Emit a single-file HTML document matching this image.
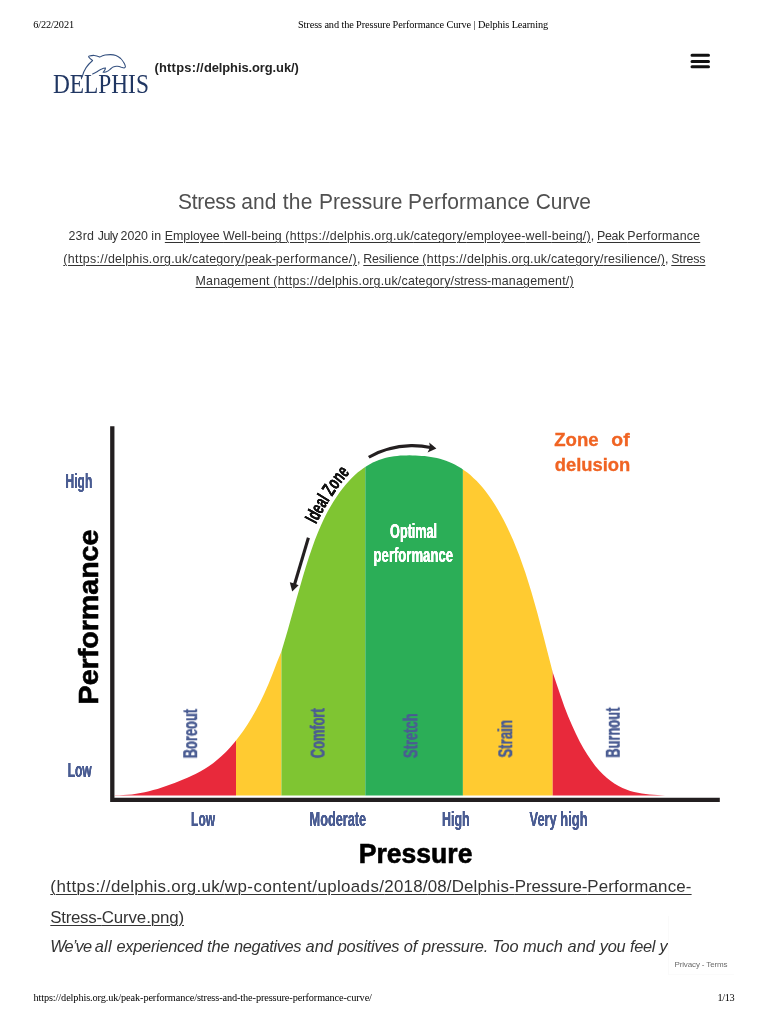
<!DOCTYPE html>
<html lang="en">
<head>
<meta charset="utf-8">
<title>Stress and the Pressure Performance Curve | Delphis Learning</title>
<style>
html,body{margin:0;padding:0;background:#fff;}
body{width:768px;height:1024px;position:relative;overflow:hidden;font-family:"Liberation Sans",sans-serif;color:#333;}
.abs{position:absolute;white-space:nowrap;}
.ph{font-family:"Liberation Serif",serif;font-size:10.3px;letter-spacing:-0.11px;color:#000;line-height:12px;}
.meta{font-size:12.4px;line-height:16px;color:#333;}
.meta u,.lnk u{text-decoration:underline;text-decoration-thickness:1px;text-underline-offset:2px;}
.lnk{font-size:16.9px;line-height:20px;color:#333;}
.it{font-style:italic;}
.lu{font-weight:bold;color:#222;line-height:16px;}
.ln{position:absolute;height:20px;}
.ln span{position:absolute;top:0;white-space:pre;}
.ln .u{text-decoration:underline;text-decoration-thickness:1px;text-underline-offset:2px;}
#title{color:#505050;line-height:30px;transform:scaleY(1.05);transform-origin:0 22.8px;}
svg{position:absolute;left:0;top:0;}
svg text{font-family:"Liberation Sans",sans-serif;font-weight:bold;}
.lb{fill:#4a5c92;font-size:19.5px;}
</style>
</head>
<body>
<!-- print header -->
<div class="abs ph" id="ph1" style="left:33.2px;top:18.6px;">6/22/2021</div>
<div class="abs ph" id="ph2" style="left:298px;top:18.6px;">Stress and the Pressure Performance Curve | Delphis Learning</div>

<!-- site header -->
<div class="ln lu" id="logourl" style="left:154.4px;top:60.2px;width:144.35px;font-size:12.9px"><span style="left:0.00px;letter-spacing:0.254px">(https://</span><span style="left:49.53px;letter-spacing:-0.072px">delphis.org.uk/)</span></div>

<!-- title -->
<div class="ln " id="title" style="left:178px;top:186.5px;width:412.6px;font-size:21px"><span style="left:0.00px;letter-spacing:-0.311px">Stress </span><span style="left:63.17px;letter-spacing:0.146px">and </span><span style="left:104.63px;letter-spacing:0.341px">the </span><span style="left:141.02px;letter-spacing:-0.089px">Pressure </span><span style="left:230.09px;letter-spacing:0.142px">Performance </span><span style="left:357.84px;letter-spacing:-0.252px">Curve</span></div>

<!-- meta -->
<div class="ln meta" id="m1" style="left:68.5px;top:228px;width:631.7px;font-size:12.4px"><span style="left:0.00px;letter-spacing:0.196px">23rd </span><span style="left:29.22px;letter-spacing:-0.526px">July </span><span style="left:52.06px;letter-spacing:-0.061px">2020 </span><span style="left:82.77px;letter-spacing:0.161px">in </span><span class="u" style="left:96.34px;letter-spacing:-0.033px">Employee </span><span class="u" style="left:154.58px;letter-spacing:0.034px">Well-being </span><span class="u" style="left:216.70px;letter-spacing:0.373px">(https://</span><span class="u" style="left:261.37px;letter-spacing:0.224px">delphis.org.uk/</span><span class="u" style="left:345.32px;letter-spacing:0.195px">category/</span><span class="u" style="left:398.05px;letter-spacing:0.134px">employee-</span><span class="u" style="left:457.10px;letter-spacing:0.121px">well-</span><span class="u" style="left:483.18px;letter-spacing:0.174px">being/)</span><span style="left:522.28px;letter-spacing:-0.317px">, </span><span class="u" style="left:528.54px;letter-spacing:-0.300px">Peak </span><span class="u" style="left:558.72px;letter-spacing:0.186px">Performance</span></div>
<div class="ln meta" id="m2" style="left:63.3px;top:250.9px;width:642.1px;font-size:12.4px"><span class="u" style="left:0.00px;letter-spacing:0.377px">(https://</span><span class="u" style="left:44.71px;letter-spacing:0.229px">delphis.org.uk/</span><span class="u" style="left:128.72px;letter-spacing:0.200px">category/</span><span class="u" style="left:181.49px;letter-spacing:0.017px">peak-</span><span class="u" style="left:212.57px;letter-spacing:0.309px">performance/)</span><span style="left:293.71px;letter-spacing:-0.314px">, </span><span class="u" style="left:299.97px;letter-spacing:-0.149px">Resilience </span><span class="u" style="left:358.93px;letter-spacing:0.377px">(https://</span><span class="u" style="left:403.64px;letter-spacing:0.229px">delphis.org.uk/</span><span class="u" style="left:487.66px;letter-spacing:0.200px">category/</span><span class="u" style="left:540.42px;letter-spacing:0.116px">resilience/)</span><span style="left:601.72px;letter-spacing:-0.314px">, </span><span class="u" style="left:607.98px;letter-spacing:-0.166px">Stress</span></div>
<div class="ln meta" id="m3" style="left:195.6px;top:272.8px;width:378.3px;font-size:12.4px"><span class="u" style="left:0.00px;letter-spacing:0.162px">Management </span><span class="u" style="left:77.55px;letter-spacing:0.363px">(https://</span><span class="u" style="left:122.14px;letter-spacing:0.214px">delphis.org.uk/</span><span class="u" style="left:205.93px;letter-spacing:0.184px">category/</span><span class="u" style="left:258.56px;letter-spacing:-0.019px">stress-</span><span class="u" style="left:295.59px;letter-spacing:0.234px">management/)</span></div>

<!-- link + body -->
<div class="ln lnk" id="l1" style="left:50.3px;top:877px;width:641.3px;font-size:16.9px"><span class="u" style="left:0.00px;letter-spacing:0.478px">(https://</span><span class="u" style="left:60.62px;letter-spacing:0.271px">delphis.org.uk/</span><span class="u" style="left:174.54px;letter-spacing:0.475px">wp-content/</span><span class="u" style="left:267.08px;letter-spacing:0.381px">uploads/</span><span class="u" style="left:333.99px;letter-spacing:0.229px">2018/</span><span class="u" style="left:377.40px;letter-spacing:0.154px">08/Delphis-</span><span class="u" style="left:464.53px;letter-spacing:-0.082px">Pressure-</span><span class="u" style="left:537.00px;letter-spacing:0.165px">Performance-</span></div>
<div class="ln lnk" id="l2" style="left:50.3px;top:908.3px;width:133.7px;font-size:16.9px"><span class="u" style="left:0.00px;letter-spacing:-0.294px">Stress-</span><span class="u" style="left:51.43px;letter-spacing:-0.129px">Curve.png)</span></div>
<div class="ln lnk it" id="l3" style="left:50.3px;top:935.6px;width:616.7px;font-size:16.4px"><span style="left:0.00px;letter-spacing:-0.879px">We’ve </span><span style="left:44.52px;letter-spacing:0.171px">all </span><span style="left:66.16px;letter-spacing:-0.278px">experienced </span><span style="left:156.68px;letter-spacing:-0.069px">the </span><span style="left:183.74px;letter-spacing:-0.330px">negatives </span><span style="left:255.16px;letter-spacing:0.074px">and </span><span style="left:287.36px;letter-spacing:-0.234px">positives </span><span style="left:353.34px;letter-spacing:0.079px">of </span><span style="left:371.80px;letter-spacing:-0.271px">pressure. </span><span style="left:441.97px;letter-spacing:-0.157px">Too </span><span style="left:472.63px;letter-spacing:-0.022px">much </span><span style="left:517.15px;letter-spacing:0.074px">and </span><span style="left:549.35px;letter-spacing:-0.183px">you </span><span style="left:579.60px;letter-spacing:-0.273px">feel </span><span style="left:609.21px;letter-spacing:-0.705px">y</span></div>

<div class="abs" id="priv" style="left:674.5px;top:959.8px;font-size:8px;letter-spacing:-0.14px;line-height:10px;color:#6b6b6b;">Privacy - Terms</div>

<div class="abs" style="left:667.5px;top:916px;width:65px;height:58px;border-left:1.5px solid #fafafa;border-bottom:1px solid #fbfbfb;"></div>
<!-- print footer -->
<div class="abs ph" id="pf1" style="left:33.4px;top:992.3px;">https://delphis.org.uk/peak-performance/stress-and-the-pressure-performance-curve/</div>
<div class="abs ph" id="pf2" style="left:717.4px;top:992.3px;letter-spacing:-0.35px;">1/13</div>

<svg id="art" width="768" height="1024" viewBox="0 0 768 1024" xmlns="http://www.w3.org/2000/svg">
<defs>
<clipPath id="bell"><path d="M114.8,795.2 L119.1,795.3 L123.3,795.1 L127.6,794.8 L131.9,794.4 L136.2,793.8 L140.4,793.0 L144.7,792.2 L149.0,791.2 L153.2,790.1 L157.5,788.9 L161.8,787.5 L166.1,786.1 L170.3,784.6 L174.6,783.0 L178.9,781.3 L183.1,779.5 L187.4,777.7 L191.7,775.8 L196.0,773.7 L200.2,771.5 L204.5,769.0 L208.8,766.2 L213.1,763.2 L217.3,759.8 L221.6,756.0 L225.9,751.9 L230.1,747.4 L234.4,742.5 L238.7,737.1 L243.0,731.2 L247.2,724.9 L251.5,717.9 L255.8,710.5 L260.0,702.4 L264.3,693.6 L268.6,683.8 L272.9,673.1 L277.1,662.1 L281.4,651.4 L284.4,641.6 L287.5,631.0 L290.5,620.2 L293.6,609.3 L296.6,598.4 L299.7,587.7 L302.7,577.2 L305.8,567.1 L308.8,557.5 L311.9,548.4 L314.9,540.0 L318.0,532.3 L321.0,525.2 L324.1,518.6 L327.1,512.6 L330.2,507.0 L333.2,501.9 L336.3,497.2 L339.3,492.7 L342.4,488.7 L345.4,484.9 L348.5,481.4 L351.5,478.2 L354.6,475.3 L357.6,472.6 L360.7,470.2 L363.7,467.9 L366.8,466.0 L369.8,464.2 L372.8,462.6 L375.9,461.2 L378.9,460.0 L382.0,458.9 L385.0,458.0 L388.1,457.3 L391.1,456.7 L394.2,456.2 L397.2,455.9 L400.3,455.6 L403.3,455.4 L406.4,455.4 L409.4,455.3 L412.5,455.4 L415.5,455.5 L418.6,455.7 L421.6,455.9 L424.7,456.1 L427.7,456.5 L430.8,456.9 L433.8,457.4 L436.9,458.1 L439.9,458.8 L443.0,459.7 L446.0,460.7 L449.1,461.9 L452.1,463.3 L455.2,464.8 L458.2,466.4 L461.3,468.3 L464.3,470.4 L467.3,472.6 L470.4,475.1 L473.4,477.9 L476.5,480.8 L479.5,484.0 L482.6,487.5 L485.6,491.3 L488.7,495.4 L491.7,499.8 L494.8,504.5 L497.8,509.5 L500.9,514.9 L503.9,520.6 L507.0,526.7 L510.0,533.2 L513.1,540.1 L516.1,547.5 L519.2,555.3 L522.2,563.7 L525.3,572.5 L528.3,581.9 L531.4,591.9 L534.4,602.4 L537.5,613.5 L540.5,625.0 L543.6,636.7 L546.6,648.5 L549.7,660.4 L552.7,672.2 L556.6,683.9 L560.5,695.6 L564.3,706.4 L568.2,716.4 L572.1,725.6 L576.0,734.0 L579.8,741.7 L583.7,748.7 L587.6,755.0 L591.5,760.8 L595.3,765.9 L599.2,770.4 L603.1,774.5 L607.0,778.0 L610.8,781.1 L614.7,783.8 L618.6,786.0 L622.5,788.0 L626.3,789.6 L630.2,790.9 L634.1,791.9 L638.0,792.8 L641.8,793.5 L645.7,794.0 L649.6,794.4 L653.5,794.7 L657.3,795.0 L661.2,795.3 L665.1,795.4 L665.1,795.5 L114.8,795.5 Z"/></clipPath>
<filter id="fat" x="-10%" y="-10%" width="120%" height="120%" color-interpolation-filters="sRGB">
<feOffset in="SourceGraphic" dx="-0.38" dy="0" result="a"/>
<feOffset in="SourceGraphic" dx="0.38" dy="0" result="b"/>
<feMerge><feMergeNode in="a"/><feMergeNode in="b"/><feMergeNode in="SourceGraphic"/></feMerge>
</filter>
<filter id="fatw" x="-10%" y="-10%" width="120%" height="120%" color-interpolation-filters="sRGB">
<feOffset in="SourceGraphic" dx="-0.2" dy="0" result="a"/>
<feOffset in="SourceGraphic" dx="0.2" dy="0" result="b"/>
<feMerge><feMergeNode in="a"/><feMergeNode in="b"/><feMergeNode in="SourceGraphic"/></feMerge>
</filter>
<filter id="fatd" x="-10%" y="-10%" width="120%" height="120%" color-interpolation-filters="sRGB">
<feOffset in="SourceGraphic" dx="-0.22" dy="0.34" result="a"/>
<feOffset in="SourceGraphic" dx="0.22" dy="-0.34" result="b"/>
<feMerge><feMergeNode in="a"/><feMergeNode in="b"/><feMergeNode in="SourceGraphic"/></feMerge>
</filter>
<path id="izp" d="M316,524.6 Q332.3,492.6 349.5,473.5"/>
</defs>
<!-- logo -->
<g id="logo">
<path d="M82.1,77.1 C83,73 84.5,70 86.1,67.6 C88,64.8 90.5,62.3 92.6,60.5 C91,59.3 89.6,58.2 88.8,57.1 C88.5,56.6 88.6,56.2 89.2,56.1 C91,55.6 92.5,55.3 94.3,55.4 C96.3,55.6 98,56.3 99.7,57.1 C101.5,56.2 103.2,55.5 105.1,55.1 C106.9,54.7 108.7,54.6 110.5,54.6 C112.4,54.6 114.2,54.8 115.9,55.4 C117.8,56.1 119.3,57.2 120.7,58.5 C122,59.8 123.1,61.3 124,62.9 C124.7,64 125.1,65.1 125.4,66.3 C125.5,67.2 124.9,67.8 124,67.9 C123.1,67.9 122.2,67.5 121.3,67.3 C120,66.8 118.6,66.4 117.3,66.3 C115.9,66.2 114.5,66.4 113.2,66.9 C111.9,67.6 110.9,68.7 109.8,69.6 C108.8,70.5 107.7,71.2 106.4,71.7 C105.3,72.1 104.2,72.3 103.1,72.3 C103.9,71.5 104.6,70.6 105.1,69.6 C105.3,69.1 105.5,68.5 105.4,67.9 C104.1,68 102.9,68.4 101.7,69 C100,69.8 98.5,70.8 97,71.7 C95.5,72.6 94,73.4 92.6,74" fill="none" stroke="#34507f" stroke-width="1.05" stroke-linecap="round" stroke-linejoin="round"/>
<text x="52.9" y="93.3" textLength="96" lengthAdjust="spacingAndGlyphs" style="font-family:'Liberation Serif',serif;font-weight:normal;font-size:26.4px;fill:#203662;">DELPHIS</text>
</g>
<!-- hamburger -->
<g stroke="#111" stroke-width="3" stroke-linecap="round"><path d="M692,55.2H708.5M692,61.4H708.5M692,66.7H708.5"/></g>
<!-- chart bands -->
<g clip-path="url(#bell)">
<rect x="110" y="440" width="126" height="360" fill="#e8293b"/>
<rect x="236" y="440" width="45.4" height="360" fill="#ffcb31"/>
<rect x="281.4" y="440" width="83.9" height="360" fill="#7fc532"/>
<rect x="365.3" y="440" width="97.6" height="360" fill="#2bae57"/>
<rect x="462.9" y="440" width="89.8" height="360" fill="#ffcb31"/>
<rect x="552.7" y="440" width="120" height="360" fill="#e8293b"/>
</g>
<!-- axes -->
<path d="M112.3,426.3V802M110.2,799.85H719.8" stroke="#231f20" stroke-width="4.3" fill="none"/>
<!-- axis labels -->
<text class="lb" filter="url(#fat)" x="65.6" y="487.9" textLength="26.6" lengthAdjust="spacingAndGlyphs">High</text>
<text class="lb" filter="url(#fat)" x="67.7" y="777.3" textLength="24" lengthAdjust="spacingAndGlyphs">Low</text>
<text class="lb" filter="url(#fat)" x="191.1" y="825.5" textLength="24" lengthAdjust="spacingAndGlyphs">Low</text>
<text class="lb" filter="url(#fat)" x="309.6" y="825.5" textLength="56.6" lengthAdjust="spacingAndGlyphs">Moderate</text>
<text class="lb" filter="url(#fat)" x="442" y="825.5" textLength="27.6" lengthAdjust="spacingAndGlyphs">High</text>
<text class="lb" filter="url(#fat)" x="529.6" y="825.5" textLength="57.9" lengthAdjust="spacingAndGlyphs">Very high</text>
<!-- zone labels (vertical) -->
<text class="lb" filter="url(#fat)" transform="translate(197.2,758.3) rotate(-90)" textLength="49.4" lengthAdjust="spacingAndGlyphs" style="font-size:20px">Boreout</text>
<text class="lb" filter="url(#fat)" transform="translate(324.6,758.1) rotate(-90)" textLength="49.7" lengthAdjust="spacingAndGlyphs" style="font-size:20px">Comfort</text>
<text class="lb" filter="url(#fat)" transform="translate(417.5,758.1) rotate(-90)" textLength="44.6" lengthAdjust="spacingAndGlyphs" style="font-size:20px">Stretch</text>
<text class="lb" filter="url(#fat)" transform="translate(512.3,757.6) rotate(-90)" textLength="37.5" lengthAdjust="spacingAndGlyphs" style="font-size:20px">Strain</text>
<text class="lb" filter="url(#fat)" transform="translate(619.8,757.7) rotate(-90)" textLength="50.2" lengthAdjust="spacingAndGlyphs" style="font-size:20px">Burnout</text>
<!-- big axis titles -->
<text transform="translate(97.9,704.4) rotate(-90)" textLength="174.8" lengthAdjust="spacingAndGlyphs" style="font-size:28.5px;fill:#000;stroke:#000;stroke-width:0.6px">Performance</text>
<text x="358.8" y="862.7" textLength="113.6" lengthAdjust="spacingAndGlyphs" style="font-size:27.6px;fill:#000;stroke:#000;stroke-width:0.6px">Pressure</text>
<!-- optimal -->
<text filter="url(#fatw)" x="390.1" y="537.5" textLength="47" lengthAdjust="spacingAndGlyphs" style="font-size:19.4px;fill:#fff">Optimal</text>
<text filter="url(#fatw)" x="373.6" y="561.9" textLength="79.4" lengthAdjust="spacingAndGlyphs" style="font-size:19.4px;fill:#fff">performance</text>
<!-- zone of delusion -->
<text x="554.2" y="446.2" textLength="44.4" lengthAdjust="spacingAndGlyphs" style="font-size:18px;fill:#f06423;stroke:#f06423;stroke-width:0.3px">Zone</text>
<text x="611.3" y="446.2" textLength="18.3" lengthAdjust="spacingAndGlyphs" style="font-size:18px;fill:#f06423;stroke:#f06423;stroke-width:0.3px">of</text>
<text x="554.7" y="470.6" textLength="75.6" lengthAdjust="spacingAndGlyphs" style="font-size:18px;fill:#f06423;stroke:#f06423;stroke-width:0.3px">delusion</text>
<!-- ideal zone -->
<text filter="url(#fatd)" style="font-size:19.5px;fill:#111" textLength="62" lengthAdjust="spacingAndGlyphs"><textPath href="#izp" textLength="62" lengthAdjust="spacingAndGlyphs">Ideal Zone</textPath></text>
<!-- arrows -->
<path d="M368.8,457.3 C380,450.5 395,446.2 411,445.6 C419,445.5 426,446.4 430.5,447.4" fill="none" stroke="#231f20" stroke-width="3.1"/>
<path d="M436.4,448.5 L429.2,442.6 L430,447.4 L427.6,452.4 Z" fill="#231f20"/>
<path d="M308.4,537.8 L294.6,584.2" fill="none" stroke="#231f20" stroke-width="3.1"/>
<path d="M292.2,591.5 L289.8,582.2 L294.6,583.6 L298.6,585.2 Z" fill="#231f20"/>
</svg>
</body>
</html>
